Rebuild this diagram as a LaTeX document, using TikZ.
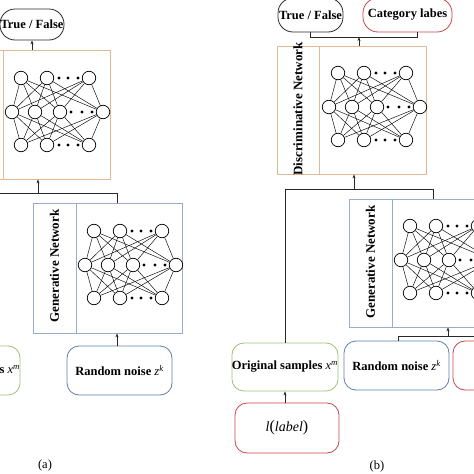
\documentclass[tikz,border=0pt]{standalone}
\usepackage{fontspec}
\setmainfont{Liberation Serif}
\usetikzlibrary{arrows.meta}
\definecolor{disccol}{RGB}{222,186,150}
\definecolor{gencol}{RGB}{155,170,205}
\definecolor{greencol}{RGB}{160,195,120}
\definecolor{redcol}{RGB}{200,70,80}
\definecolor{bluecol}{RGB}{95,125,175}
\definecolor{darkcol}{RGB}{40,40,40}
\newcommand\drawnet[3]{%
  \begin{scope}[shift={(#2,#3)}]
    \foreach \i/\x in {1/9,2/35,3/77} {
      \node[neuron] (#1a\i) at (\x,0) {};
      \node[neuron] (#1c\i) at (\x,67) {};
    }
    \foreach \i/\x in {1/0,2/23,3/48,4/91} {
      \node[neuron] (#1b\i) at (\x,34) {};
    }
    \foreach \i in {1,2,3} {
      \foreach \j in {1,2,3,4} {
        \draw[netline] (#1a\i) -- (#1b\j);
        \draw[netline] (#1b\j) -- (#1c\i);
      }
    }
    \foreach \x in {47,56,66} {
      \fill (\x,0) circle (1.7);
      \fill (\x,67) circle (1.7);
    }
    \foreach \x in {59,70,80} {
      \fill (\x,34) circle (1.7);
    }
  \end{scope}}
\begin{document}
\begin{tikzpicture}[x=1pt,y=-1pt,
  term/.style={draw, rounded corners=12pt, line width=0.8pt, inner sep=0pt,
    font=\bfseries\fontsize{12.5}{14}\selectfont, align=center},
  netbox/.style={draw, line width=0.8pt, inner sep=0pt},
  neuron/.style={circle, draw, line width=0.7pt, minimum size=13.5pt, inner sep=0pt},
  netline/.style={line width=0.45pt},
  conn/.style={line width=0.9pt, draw=darkcol},
  arr/.style={conn, -{Stealth[length=4pt,width=3pt]}},
  vlabel/.style={rotate=90, inner sep=0pt, font=\bfseries\fontsize{13}{14}\selectfont},
  capt/.style={inner sep=0pt, font=\fontsize{12.5}{14}\selectfont}]
\useasboundingbox (0,0) rectangle (474,474);
\clip (0,0) rectangle (474,474);
\fill[white] (0,0) rectangle (474,474);

% ---------------- panel (a) ----------------
\node[term, draw=darkcol, rounded corners=15pt, minimum width=64pt, minimum height=31pt] (TFa) at (32,24.5) {True / False};
\node[netbox, draw=disccol, minimum width=149pt, minimum height=129pt] (discA) at (35.5,114.5) {};
\draw[disccol, line width=0.8pt] (discA.north -| 3,0) -- (discA.south -| 3,0);
\node[vlabel] (discAl) at (-18,114.5) {Discriminative Network};
\drawnet{da}{12}{78}

\node[netbox, draw=gencol, minimum width=149pt, minimum height=130pt] (genA) at (107.5,268) {};
\draw[gencol, line width=0.8pt] (genA.north -| 76,0) -- (genA.south -| 76,0);
\node[vlabel] (genAl) at (54.5,266) {Generative Network};
\drawnet{ga}{85}{231}

\node[term, draw=greencol, minimum width=105pt, minimum height=49pt] (origA) at (-33,370.5)
  {Original samples {\normalfont\itshape x}\textsuperscript{\normalfont\itshape m}};
\node[term, draw=bluecol, minimum width=105pt, minimum height=49pt] (noiseA) at (119.5,370.5)
  {Random noise {\normalfont\itshape z}\textsuperscript{\normalfont\itshape k}};

\draw[arr] (discA.north -| TFa.south) -- (TFa.south);
\coordinate (busAr) at (117,193);
\coordinate (busAa) at (38,193);
\draw[conn] (origA.north) |- (busAr) -- (busAr |- genA.north);
\draw[arr] (busAa) -- (busAa |- discA.south);
\draw[arr] (noiseA.north -| busAr) -- (genA.south -| busAr);

\node[capt] (captA) at (45,465) {(a)};

% ---------------- panel (b) ----------------
\node[term, draw=darkcol, rounded corners=15pt, minimum width=65pt, minimum height=34pt] (TFb) at (310.5,15) {True / False};
\node[term, draw=redcol, rounded corners=15pt, minimum width=89pt, minimum height=34pt] (catB) at (407.5,15) {Category labes};
\node[netbox, draw=disccol, minimum width=149pt, minimum height=128pt] (discB) at (351.5,110) {};
\draw[disccol, line width=0.8pt] (discB.north -| 319,0) -- (discB.south -| 319,0);
\node[vlabel] (discBl) at (298,109) {Discriminative Network};
\drawnet{db}{329}{73}

\node[netbox, draw=gencol, minimum width=149pt, minimum height=128pt] (genB) at (423.5,263) {};
\draw[gencol, line width=0.8pt] (genB.north -| 392,0) -- (genB.south -| 392,0);
\node[vlabel] (genBl) at (370.5,262) {Generative Network};
\drawnet{gb}{401}{226}

\node[term, draw=greencol, minimum width=106pt, minimum height=48pt] (origB) at (285,367)
  {Original samples {\normalfont\itshape x}\textsuperscript{\normalfont\itshape m}};
\node[term, draw=bluecol, minimum width=105pt, minimum height=49pt] (noiseB) at (396.5,365.5)
  {Random noise {\normalfont\itshape z}\textsuperscript{\normalfont\itshape k}};
\node[term, draw=redcol, minimum width=105pt, minimum height=49pt] (redB) at (505.5,365.5) {};
\node[term, draw=redcol, minimum width=104pt, minimum height=50pt,
  font=\normalfont\fontsize{14}{16}\selectfont] (labB) at (287,428)
  {\itshape l\upshape{\fontsize{16}{16}\selectfont(}\itshape label\upshape{\fontsize{16}{16}\selectfont)}};

\coordinate (tbR) at (417,37);
\coordinate (tbA) at (359,37);
\draw[conn] (TFb.south) |- (tbR) -- (tbR |- catB.south);
\draw[arr] (discB.north -| tbA) -- (tbA);

\coordinate (bbR) at (433,189);
\coordinate (bbA) at (354,189);
\draw[conn] (origB.north) |- (bbR) -- (bbR |- genB.north);
\draw[arr] (bbA) -- (bbA |- discB.south);

\coordinate (gbL) at (398,336);
\coordinate (gbA) at (448,336);
\draw[conn] (gbL |- noiseB.north) -- (gbL) -- (gbL -| redB.north) -- (redB.north);
\draw[arr] (gbA) -- (gbA |- genB.south);

\draw[arr] (origB.south |- labB.north) -- (origB.south);

\node[capt] (captB) at (377,466) {(b)};
\end{tikzpicture}
\end{document}
